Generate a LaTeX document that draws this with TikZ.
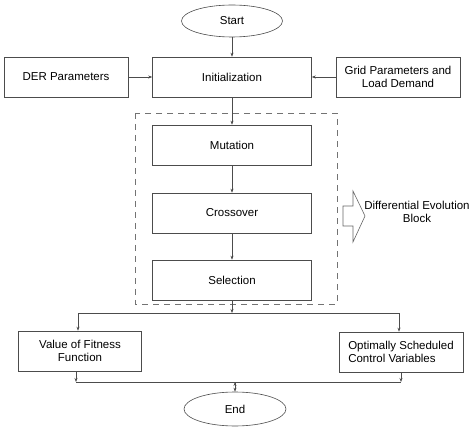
\documentclass[tikz,border=0pt]{standalone}
\usepackage{fontspec}
\setmainfont{Liberation Sans}
\usetikzlibrary{positioning, arrows.meta, shapes.geometric}

\begin{document}
\begin{tikzpicture}[x=1pt, y=-1pt, font=\fontsize{11.5}{12.5}\selectfont,
    line/.style={draw=black!70, line width=0.6pt},
    box/.style={rectangle, draw=black!70, line width=0.6pt, minimum width=159pt, minimum height=40pt, align=center, inner sep=1pt},
    sidebox/.style={box, minimum width=124pt},
    term/.style={ellipse, draw=black!70, line width=0.6pt, minimum width=101pt, minimum height=32pt, inner sep=0pt},
    >={Stealth[length=4pt, width=3pt]}]
    \useasboundingbox (0,0) rectangle (474,430);

    \node[term] (start) at (232,21) {Start};
    \node[box] (init) at (232,77) {Initialization};
    \node[sidebox] (der) at (66,77) {DER Parameters};
    \node[sidebox] (grid) at (398,77) {Grid Parameters and\\Load Demand};

    % differential evolution block
    \node[box] (mut) at (232,145) {Mutation};
    \node[box] (cross) at (232,213) {Crossover};
    \node[box] (sel) at (232,280) {Selection};
    \draw[line, dash pattern=on 6pt off 5pt, draw=black!55] (135,113) rectangle (337,304);
    \draw[line, draw=black!60] (343,206) -- (353,206) -- (353,191) -- (365,216) -- (353,242) -- (353,226) -- (343,226) -- cycle;
    \node[align=center, inner sep=0pt] (delabel) at (417,212) {Differential Evolution\\Block};

    \node[sidebox, minimum width=123pt] (fit) at (80,351) {Value of Fitness\\Function};
    \node[sidebox, align=left] (opt) at (401,352) {Optimally Scheduled\\Control Variables};
    \node[term, minimum width=102pt, minimum height=34pt] (end) at (235,409) {End};

    \coordinate (split) at (232,313);
    \coordinate (join) at (235,382);

    \path[line, ->] (start) edge (init)
              (der) edge (init)
              (grid) edge (init)
              (init) edge (mut)
              (mut) edge (cross)
              (cross) edge (sel)
              (sel) edge (split)
              (join) edge (end);
    \draw[line, ->] (split) -| ([xshift=-2pt]fit.north);
    \draw[line, ->] (split) -| ([xshift=-2pt]opt.north);
    \draw[line, ->] ([xshift=-4pt]fit.south) -- ([xshift=-4pt]fit.south |- join);
    \draw[line, ->] (opt.south) -- (opt.south |- join);
    \draw[line] ([xshift=-4pt]fit.south |- join) -- (opt.south |- join);
\end{tikzpicture}
\end{document}
